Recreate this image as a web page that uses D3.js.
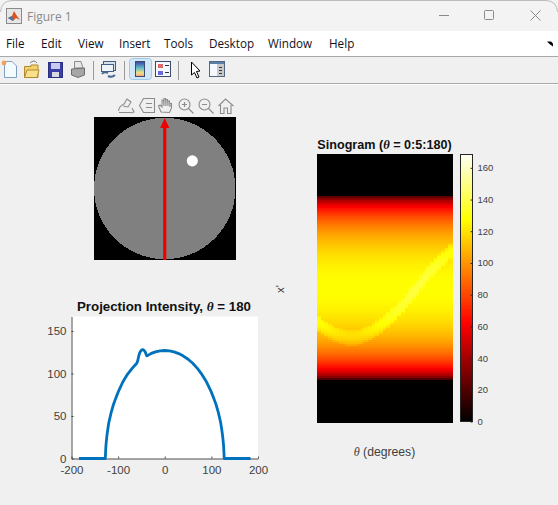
<!DOCTYPE html>
<html><head><meta charset="utf-8">
<script src="https://cdn.jsdelivr.net/npm/d3@7/dist/d3.min.js"></script>
<style>
html,body{margin:0;padding:0;background:#f0f0f0;overflow:hidden}
svg{display:block}
text{font-family:"Liberation Sans",Arial,sans-serif}
.ui{font-family:"Open Sans","Noto Sans",sans-serif}
</style></head><body>
<svg id="c" width="558" height="505"></svg>
<script>
// ---- data ----
const menuItems = ["File","Edit","View","Insert","Tools","Desktop","Window","Help"];
const menuX = [6,41,78,119,164,209,268,329];

const projX = [-184,-130,-127.5,-126.5,-126,-125,-124,-122,-120,-115,-110,-105,-100,-90,-80,-70,-60,-58,-56,-54,-52,-50,-47,-45,-42,-40,-38.5,-37,-30,-20,-10,0,10,20,30,40,50,60,70,80,90,100,105,110,115,120,122,124,125,126,126.5,127.5,130,184];
const projY = [0,0,0,12,16,22,27,35,42,54,63.5,71,78,90,99,106,112,115,120,124,126,127.4,128,127.6,125.5,122.5,120.8,121,123.4,125.4,126.6,127,126.6,125.4,123.4,120.5,116.7,112,106,98.6,89.6,78,71,63.5,54,42,35,27,22,16,12,0,0,0];

const xTicks = [-200,-100,0,100,200];
const yTicks = [0,50,100,150];
const cbTicks = [0,20,40,60,80,100,120,140,160];

// sinogram: angles, absolute offset profile, and the bright track of the small disc
const thetas = [0,5,10,15,20,25,30,35,40,45,50,55,60,65,70,75,80,85,90,95,100,105,110,115,120,125,130,135,140,145,150,155,160,165,170,175,180];
const trackX = [50,54,57,60,63,65,67,68,69,69,69,68,66,64,62,59,56,52,48,44,39,35,29,24,18,12,6,0,-8,-13,-19,-25,-30,-35,-40,-45,-50];
const profileR = [0,10,20,30,40,50,60,70,80,90,100,105,110,115,120,122,124,125,126,127,184];
const profileV = [127,126.6,125.4,123.4,120.5,116.7,112,106,98.6,89.6,78.3,71.4,63.5,53.9,41.6,35,27.4,22.4,16,0,0];
const bumpR = [0,2,4,6,8,9,10,10.5,11];
const bumpV = [11,10.8,10.2,9.2,7.5,6.3,4.6,3.3,0];
const sinoRowStep = 2.75;

const hotStops = [0,62,127,170];
const hotColors = ["#000000","#ff0000","#ffff00","#ffffff"];

const discCenter = [49.5,-49.5];
const discR = 10;
const phantomR = 127;
const phantomHalf = 128;

// ---- chrome ----
const svg = d3.select("#c");
const rect=(x,y,w,h,f,g=svg)=>g.append("rect").attr("x",x).attr("y",y).attr("width",w).attr("height",h).attr("fill",f);
rect(0,0,558,505,"#f0f0f0");
rect(0,0,558,31,"#f3f3f3");
svg.append("path").attr("d","M0.5,12 Q1,1 12,0.5 H546 Q557,1 557.5,12").attr("fill","none").attr("stroke","#bcbcbc");
rect(0,31,558,25,"#ffffff");
rect(0,56,558,1,"#a8a8a8");
rect(0,83,558,1,"#a8a8a8");
rect(0,84,558,1,"#ffffff");

// title bar
const logo = svg.append("g").attr("transform","translate(6,8)");
logo.append("rect").attr("x",0.5).attr("y",0.5).attr("width",15).attr("height",15).attr("fill","#e6e6e6").attr("stroke","#8b8b8b");
logo.append("path").attr("d","M2,10 L6,8 L8,3 L11,8 L14,12 L10,10 L7,13 Z").attr("fill","#d9541e");
logo.append("path").attr("d","M2,10 L6,8 L7,13 Z").attr("fill","#2b7bc0");
svg.append("text").attr("class","ui").attr("x",27).attr("y",21).attr("font-size",12).attr("fill","#8a8a8a").text("Figure 1");
svg.append("path").attr("d","M439,15.5 H449").attr("stroke","#8a8a8a").attr("fill","none");
svg.append("rect").attr("x",484.5).attr("y",10.5).attr("width",9).attr("height",9).attr("rx",1).attr("fill","none").attr("stroke","#8a8a8a");
svg.append("path").attr("d","M530.5,10.5 L540.5,20.5 M540.5,10.5 L530.5,20.5").attr("stroke","#8a8a8a").attr("fill","none");

// menu
svg.append("g").selectAll("text").data(menuItems).join("text").attr("class","ui")
  .attr("x",(d,i)=>menuX[i]).attr("y",48).attr("font-size",11.7).attr("fill","#101020").text(d=>d);
svg.append("path").attr("d","M547,41.5 H551 L553,43.5 V46.5 L549.5,44 Z").attr("fill","#000");

// toolbar icons
const tb = svg.append("g");
tb.append("path").attr("d","M4.5,61.5 H12 L16.5,66 V77.5 H4.5 Z").attr("fill","#f4fbff").attr("stroke","#7e9fc0");
tb.append("circle").attr("cx",4).attr("cy",63).attr("r",2.4).attr("fill","#f2a060");
tb.append("path").attr("d","M24.5,66.5 H31 V65 H38 V77.5 H24.5 Z").attr("fill","#f4d26e").attr("stroke","#b08a2e");
tb.append("path").attr("d","M24.5,77.5 L27,70 H39 L37,77.5 Z").attr("fill","#fae08a").attr("stroke","#b08a2e");
tb.append("path").attr("d","M30,63 Q34,59 37,63").attr("fill","none").attr("stroke","#7d7d7d");
tb.append("rect").attr("x",48.5).attr("y",62.5).attr("width",14).attr("height",15).attr("fill","#3a3fa8").attr("stroke","#2a2f80");
tb.append("rect").attr("x",51).attr("y",63).attr("width",9).attr("height",6).attr("fill","#c9ccf0");
tb.append("rect").attr("x",52).attr("y",72).attr("width",7).attr("height",5).attr("fill","#d9d9e0");
tb.append("path").attr("d","M74.5,61.5 H81 L83,68 H74.5 Z").attr("fill","#e8e8e8").attr("stroke","#8b8b8b");
tb.append("path").attr("d","M71.5,69 L84.5,68 V75 L78,77.5 L71.5,75 Z").attr("fill","#a6a6a6").attr("stroke","#6f6f6f");
[[93.5,61,80],[124.5,61,80],[178.5,61,80]].forEach(s=>rect(s[0]-0.5,s[1],1,s[2]-s[1],"#9a9a9a",tb));
tb.append("rect").attr("x",103.5).attr("y",61.5).attr("width",12).attr("height",9).attr("fill","#d6e0ea").attr("stroke","#3f5f86");
tb.append("rect").attr("x",101.5).attr("y",64.5).attr("width",12).attr("height",7).attr("fill","#eef3f8").attr("stroke","#3f5f86");
tb.append("path").attr("d","M102,74 Q104,71 108,73 M108,76 Q112,78 115,75").attr("stroke","#4a6a90").attr("stroke-width",2).attr("fill","none");
tb.append("rect").attr("x",129.5).attr("y",58.5).attr("width",22).attr("height",21).attr("rx",3).attr("fill","#cfe6f8").attr("stroke","#9ccbee");
const cbIcon = tb.append("defs").append("linearGradient").attr("id","ig").attr("x1",0).attr("y1",0).attr("x2",0).attr("y2",1);
[["0","#3a3fa8"],["0.45","#66c0c8"],["0.75","#f0e080"],["1","#f0a090"]].forEach(s=>cbIcon.append("stop").attr("offset",s[0]).attr("stop-color",s[1]));
tb.append("rect").attr("x",135.5).attr("y",61.5).attr("width",9).attr("height",15).attr("fill","url(#ig)").attr("stroke","#3c4a70");
tb.append("rect").attr("x",155.5).attr("y",61.5).attr("width",15).attr("height",15).attr("fill","#f5f8fc").attr("stroke","#3c4a70");
rect(158,64,5,4,"#e06a6a",tb); rect(158,71,5,4,"#6a6ae0",tb);
rect(165,65,4,1,"#333",tb); rect(165,72,4,1,"#333",tb);
tb.append("path").attr("d","M191.5,62 V75 L194.5,72.5 L197,78 L199,77 L196.5,71.5 L200,71 Z").attr("fill","#fff").attr("stroke","#000");
tb.append("rect").attr("x",209.5).attr("y",61.5).attr("width",15).attr("height",15).attr("fill","#f5f8fc").attr("stroke","#55677f");
rect(210,62,14,2,"#5a7fa8",tb); rect(217,64,7,12,"#c8c8c8",tb);
[67,70,73].forEach(y=>rect(219,y,3,1,"#333",tb));

// axes toolbar
const at = svg.append("g").attr("fill","none").attr("stroke","#8c8c8c").attr("stroke-width",1.1);
at.append("path").attr("d","M118.5,111 Q119,106 124,104 L127,99 L131,102 L128,107 L123,106 M119,112.5 H131 M132,108 L134,112 L131,113");
at.append("path").attr("d","M143.5,98.5 H154.5 V112.5 H143.5 L139.5,105.5 Z M146,103.5 H152 M146,107.5 H152");
at.append("path").attr("d","M161,112 L158.5,106 L160,105 L162,107 V100 H163.5 L164,106 V98.5 H165.5 L166,106 V99.5 H167.5 L168,106 V101 H169.5 L170,107 V103.5 H171.5 V108 L169.5,112.5 Z");
at.append("circle").attr("cx",184.5).attr("cy",104.5).attr("r",5.5);
at.append("path").attr("d","M188.5,108.5 L193.5,113.5 M182,104.5 H187 M184.5,102 V107");
at.append("circle").attr("cx",204.5).attr("cy",104.5).attr("r",5.5);
at.append("path").attr("d","M208.5,108.5 L213.5,113.5 M202,104.5 H207");
at.append("path").attr("d","M218.5,106 L225.5,99 L233.5,106 M220.5,105 V113.5 H224 V108 H227.5 V113.5 H231 V105");

// ---- phantom image ----
const phX = d3.scaleLinear().domain([-phantomHalf,phantomHalf]).range([93.5,236]);
const phY = d3.scaleLinear().domain([-phantomHalf,phantomHalf]).range([117,260]);
const ph = svg.append("g").attr("shape-rendering","crispEdges");
rect(phX(-phantomHalf),phY(-phantomHalf),phX(phantomHalf)-phX(-phantomHalf),phY(phantomHalf)-phY(-phantomHalf),"#000",ph);
ph.append("circle").attr("cx",phX(0)).attr("cy",phY(0)).attr("r",phX(phantomR)-phX(0)).attr("fill","#808080");
svg.append("circle").attr("cx",phX(discCenter[0])).attr("cy",phY(discCenter[1])).attr("r",phX(discR)-phX(0)).attr("fill","#fff");
svg.append("path").attr("d",`M${phX(0)-1.6},${phY(phantomHalf)} V128 H${phX(0)-4.6} L${phX(0)},118 L${phX(0)+4.6},128 H${phX(0)+1.6} V${phY(phantomHalf)} Z`).attr("fill","#f00000");

// ---- projection plot ----
const px = d3.scaleLinear().domain([-200,200]).range([71.5,258]);
const py = d3.scaleLinear().domain([0,167]).range([458.5,316.5]);
rect(px(-200),py(167),px(200)-px(-200),py(0)-py(167),"#fff");
const axX = svg.append("g").attr("transform",`translate(0,${py(0)})`).call(d3.axisBottom(px).tickValues(xTicks).tickSizeInner(-2).tickSizeOuter(0).tickPadding(7).tickFormat(d=>d3.format("d")(d).replace("−","-")));
const axY = svg.append("g").attr("transform",`translate(${px(-200)},0)`).call(d3.axisLeft(py).tickValues(yTicks).tickSizeInner(-2).tickSizeOuter(0).tickPadding(5));
[axX,axY].forEach(a=>{a.selectAll("path,line").attr("stroke","#262626").attr("stroke-width",0.8);a.selectAll("text").attr("fill","#404040").attr("font-size",11.5).attr("font-family","Liberation Sans");});
svg.append("path").datum(d3.zip(projX,projY)).attr("fill","none").attr("stroke","#0072BD").attr("stroke-width",2.8).attr("stroke-linejoin","round")
  .attr("d",d3.line().x(d=>px(d[0])).y(d=>py(d[1])));
const title=(x,y,fs,a,b)=>{const t=svg.append("text").attr("x",x).attr("y",y).attr("text-anchor","middle").attr("font-weight","bold").attr("font-size",fs).attr("fill","#111");
  t.append("tspan").text(a);t.append("tspan").attr("font-family","Liberation Serif").attr("font-style","italic").text("θ");t.append("tspan").text(b);};
title(164,311,13.3,"Projection Intensity, "," = 180");

// ---- sinogram ----
const hot = d3.scaleLinear().domain(hotStops).range(hotColors).clamp(true);
const sx = d3.scaleBand().domain(thetas).range([317,452]);
const rows = d3.range(-184,184,sinoRowStep);
const sy = d3.scaleLinear().domain([-184,184]).range([154,422]);
const base = d3.scaleLinear().domain(profileR).range(profileV).clamp(true);
const bump = d3.scaleLinear().domain(bumpR).range(bumpV).clamp(true);
const cells = thetas.flatMap((t,i)=>rows.map(r=>({t,r,v:base(Math.abs(r+sinoRowStep/2))+bump(Math.abs(r+sinoRowStep/2-trackX[i]))})));
svg.append("g").attr("shape-rendering","crispEdges").selectAll("rect").data(cells).join("rect")
  .attr("x",d=>sx(d.t)).attr("y",d=>sy(d.r)).attr("width",sx.bandwidth()+0.5).attr("height",sy(sinoRowStep)-sy(0)+0.5).attr("fill",d=>hot(d.v));
title(384.5,149,12.6,"Sinogram ("," = 0:5:180)");
svg.append("text").attr("transform","translate(284,289) rotate(-90)").attr("text-anchor","middle").attr("font-size",11.5).attr("fill","#404040").text("x'");
const xl = svg.append("text").attr("x",384.5).attr("y",456).attr("text-anchor","middle").attr("font-size",12.2).attr("fill","#404040");
xl.append("tspan").attr("font-family","Liberation Serif").attr("font-style","italic").text("θ");
xl.append("tspan").text(" (degrees)");

// ---- colorbar ----
const cy = d3.scaleLinear().domain([0,168.4]).range([421.5,154.5]);
const cbVals = d3.range(0,168.4,1);
svg.append("g").attr("shape-rendering","crispEdges").selectAll("rect").data(cbVals).join("rect")
  .attr("x",460).attr("width",13).attr("y",d=>cy(d+1)).attr("height",d=>cy(d)-cy(d+1)+0.5).attr("fill",d=>hot(d));
svg.append("rect").attr("x",460.5).attr("y",154.5).attr("width",12).attr("height",267).attr("fill","none").attr("stroke","#262626").attr("stroke-width",1);
const cbAx = svg.append("g").attr("transform","translate(472.5,0)").call(d3.axisRight(cy).tickValues(cbTicks).tickSizeInner(-2).tickSizeOuter(0).tickPadding(5));
cbAx.select(".domain").remove();
cbAx.selectAll("line").attr("stroke","#262626");
cbAx.selectAll("text").attr("fill","#404040").attr("font-size",9.5).attr("font-family","Liberation Sans");
</script>
</body></html>
